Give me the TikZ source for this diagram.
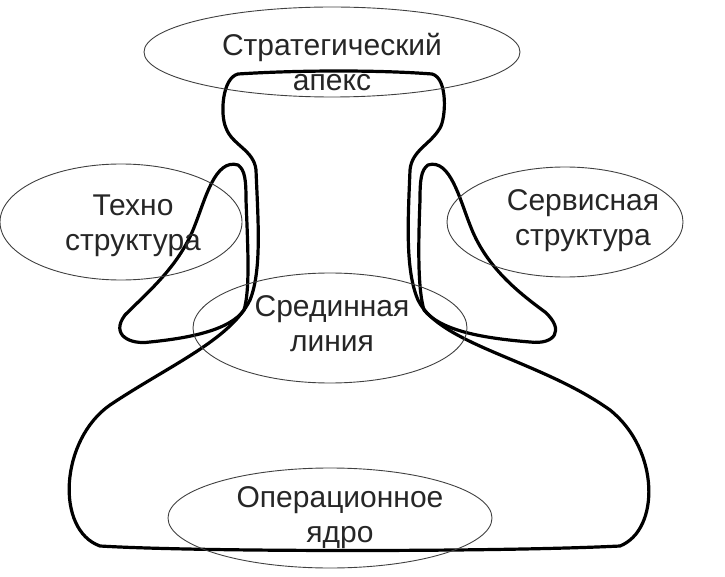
\documentclass[tikz,border=0pt]{standalone}
\usepackage{fontspec}
\setmainfont{Liberation Sans}
\begin{document}
\begin{tikzpicture}[x=1pt,y=-1pt,
  thick/.style={draw=black,line width=3.2pt,line join=round},
  oval/.style={draw=black!75,line width=0.9pt},
  lbl/.style={font=\fontsize{30}{35}\selectfont,align=center,text=black!85}]
\useasboundingbox (0,0) rectangle (725,577);
% main body
\draw[thick] (238,74) .. controls (300,70) and (380,70) .. (432,74)
  .. controls (448,78) and (446,118) .. (440,128)
  .. controls (430,145) and (412,150) .. (410,170)
  .. controls (408,220) and (405,270) .. (418,300)
  .. controls (440,345) and (540,360) .. (610,410)
  .. controls (660,450) and (660,530) .. (620,546)
  .. controls (500,552) and (200,552) .. (100,546)
  .. controls (55,530) and (60,440) .. (110,405)
  .. controls (170,365) and (230,340) .. (250,300)
  .. controls (262,270) and (258,220) .. (256,170)
  .. controls (254,150) and (232,145) .. (226,128)
  .. controls (220,115) and (222,78) .. (238,74) -- cycle;
% left wing
\draw[thick] (238,165) .. controls (215,158) and (205,200) .. (195,225)
  .. controls (180,265) and (150,290) .. (125,315)
  .. controls (110,335) and (130,345) .. (150,342)
  .. controls (190,338) and (230,330) .. (244,310)
  .. controls (250,290) and (248,250) .. (246,200)
  .. controls (246,180) and (245,170) .. (238,165) -- cycle;
% right wing
\draw[thick] (428,165) .. controls (450,158) and (460,200) .. (470,225)
  .. controls (485,265) and (515,290) .. (545,312)
  .. controls (565,330) and (555,345) .. (530,342)
  .. controls (480,338) and (440,330) .. (424,310)
  .. controls (418,290) and (418,250) .. (420,200)
  .. controls (420,180) and (421,170) .. (428,165) -- cycle;
% ellipses
\draw[oval] (332,52) ellipse [x radius=188, y radius=45];
\draw[oval] (121,222) ellipse [x radius=121, y radius=58];
\draw[oval] (565,222) ellipse [x radius=118, y radius=55];
\draw[oval] (330,328) ellipse [x radius=137, y radius=55];
\draw[oval] (330,518) ellipse [x radius=162, y radius=50];
% labels
\node[lbl] (a) at (332,62) {Стратегический\\апекс};
\node[lbl] (t) at (133,226) {Техно\\структура};
\node[lbl] (s) at (583,221) {Сервисная\\структура};
\node[lbl] (m) at (332,324) {Срединная\\линия};
\node[lbl] (o) at (340,518) {Операционное\\ядро};
\end{tikzpicture}
\end{document}
